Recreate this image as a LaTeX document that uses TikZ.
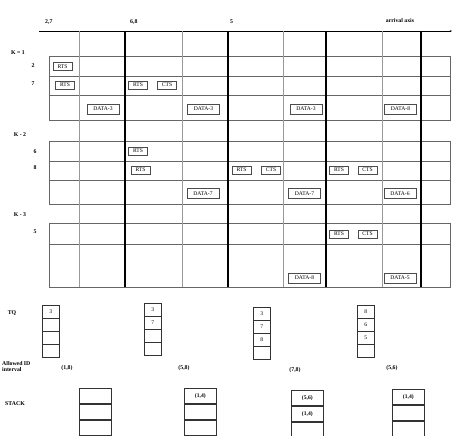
\documentclass[tikz,border=0pt]{standalone}
\usepackage{fontspec}
\setmainfont{Liberation Serif}
\usepackage{xcolor}
\usepackage{tikz}
\usetikzlibrary{positioning,arrows.meta}

\begin{document}
\begin{tikzpicture}[x=1pt, y=-1pt,
  msgbox/.style={draw=black!70, line width=0.5pt, inner sep=0pt, minimum height=8pt, minimum width=19pt, font=\fontsize{5.6}{6.5}\selectfont},
  databox/.style={msgbox, minimum height=10pt, minimum width=32pt},
  lbl/.style={inner sep=0pt, font=\fontsize{5.8}{6.6}\selectfont\bfseries},
  tqcell/.style={draw=black!80, line width=0.6pt, inner sep=0pt, minimum width=17pt, minimum height=12.5pt, font=\fontsize{5.6}{6.5}\selectfont},
  stcell/.style={draw=black!80, line width=0.6pt, inner sep=0pt, minimum width=32pt, minimum height=15.3pt, font=\fontsize{5.6}{6.5}\selectfont\bfseries},
  tbl/.style={draw=black!60, line width=0.7pt}]
\useasboundingbox (0,0) rectangle (474,436);

% arrival axis
\coordinate (ax0) at (39,31);
\coordinate (ax1) at (452,31);
\draw[line width=0.7pt, -{Stealth[length=2pt]}] (ax0) -- (ax1);
\node[lbl, anchor=west] at (45,22) (t27) {2,7};
\node[lbl, anchor=west] at (130,22) (t68) {6,8};
\node[lbl, anchor=west] at (230,22) (t5) {5};
\node[lbl] at (400,21) (arr) {arrival axis};

% K = 1
\node[lbl] at (18,53) (k1) {K = 1};
\node[lbl] at (33,66) (r2) {2};
\node[lbl] at (33,84) (r7) {7};
\draw[tbl] (49,56) rectangle (450,120);
\draw[tbl] (49,76) -- (450,76);
\draw[tbl] (49,95) -- (450,95);

% K = 2
\node[lbl] at (20,135) (k2) {K - 2};
\node[lbl] at (35,152) (r6) {6};
\node[lbl] at (35,168) (r8) {8};
\draw[tbl] (49,141) rectangle (450,204);
\draw[tbl] (49,161) -- (450,161);
\draw[tbl] (49,180) -- (450,180);

% K = 3
\node[lbl] at (20,215) (k3) {K - 3};
\node[lbl] at (35,232) (r5) {5};
\draw[tbl] (49,223) rectangle (450,287);
\draw[tbl] (49,244) -- (450,244);

% slot lines
\foreach \x in {79,182,283,382}
  \draw[black!40, line width=0.8pt] (\x,31) -- (\x,287);
\foreach \x in {125,228,326,421}
  \draw[black, line width=1.6pt] (\x,31) -- (\x,287);

% messages
\node[msgbox, fill=white] at (62.5,66.5) (rts2) {RTS};
\node[msgbox, fill=white] at (65,85) (rts7a) {RTS};
\node[msgbox, fill=white] at (138,85) (rts7b) {RTS};
\node[msgbox, fill=white] at (167,85) (cts7b) {CTS};
\node[databox, fill=white] at (103,109) (d3a) {DATA-3};
\node[databox, fill=white] at (203.5,109) (d3b) {DATA-3};
\node[databox, fill=white] at (306,109) (d3c) {DATA-3};
\node[databox, fill=white] at (400.5,109) (d8a) {DATA-8};

\node[msgbox, fill=white] at (138,151) (rts6) {RTS};
\node[msgbox, fill=white] at (140.5,170) (rts8a) {RTS};
\node[msgbox, fill=white] at (241.5,170) (rts8b) {RTS};
\node[msgbox, fill=white] at (271,170) (cts8b) {CTS};
\node[msgbox, fill=white] at (339,170) (rts8c) {RTS};
\node[msgbox, fill=white] at (367.5,170) (cts8c) {CTS};
\node[databox, fill=white] at (203,193.5) (d7a) {DATA-7};
\node[databox, fill=white] at (304.5,193.5) (d7b) {DATA-7};
\node[databox, fill=white] at (400,193.5) (d6) {DATA-6};

\node[msgbox, fill=white] at (339,234) (rts5) {RTS};
\node[msgbox, fill=white] at (367.5,234) (cts5) {CTS};
\node[databox, fill=white] at (304.5,278) (d8b) {DATA-8};
\node[databox, fill=white] at (400,278) (d5) {DATA-5};

% TQ
\node[lbl] at (12,313) (tq) {TQ};
\node[tqcell, anchor=north west] at (42,305) (qa1) {3};
\node[tqcell, below=0pt of qa1] (qa2) {};
\node[tqcell, below=0pt of qa2] (qa3) {};
\node[tqcell, below=0pt of qa3] (qa4) {};
\node[tqcell, anchor=north west] at (144,303) (qb1) {3};
\node[tqcell, below=0pt of qb1] (qb2) {7};
\node[tqcell, below=0pt of qb2] (qb3) {};
\node[tqcell, below=0pt of qb3] (qb4) {};
\node[tqcell, anchor=north west] at (253,307) (qc1) {3};
\node[tqcell, below=0pt of qc1] (qc2) {7};
\node[tqcell, below=0pt of qc2] (qc3) {8};
\node[tqcell, below=0pt of qc3] (qc4) {};
\node[tqcell, anchor=north west] at (357,305) (qd1) {8};
\node[tqcell, below=0pt of qd1] (qd2) {6};
\node[tqcell, below=0pt of qd2] (qd3) {5};
\node[tqcell, below=0pt of qd3] (qd4) {};

% allowed ID interval
\node[lbl, anchor=north west, align=left] at (2,361) (aid) {Allowed ID\\interval};
\node[lbl] at (67,368) (ia) {(1,8)};
\node[lbl] at (184,368) (ib) {(5,8)};
\node[lbl] at (295,370) (ic) {(7,8)};
\node[lbl] at (392,368) (id) {(5,6)};

% STACK
\node[lbl] at (15,404) (stk) {STACK};
\node[stcell, anchor=north west] at (79,388) (sa1) {};
\node[stcell, below=0pt of sa1] (sa2) {};
\node[stcell, below=0pt of sa2] (sa3) {};
\node[stcell, anchor=north west] at (184,388) (sb1) {(1,4)};
\node[stcell, below=0pt of sb1] (sb2) {};
\node[stcell, below=0pt of sb2] (sb3) {};
\node[stcell, anchor=north west] at (291,390) (sc1) {(5,6)};
\node[stcell, below=0pt of sc1] (sc2) {(1,4)};
\node[stcell, below=0pt of sc2] (sc3) {};
\node[stcell, anchor=north west] at (392,389) (sd1) {(1,4)};
\node[stcell, below=0pt of sd1] (sd2) {};
\node[stcell, below=0pt of sd2] (sd3) {};

\end{tikzpicture}
\end{document}
